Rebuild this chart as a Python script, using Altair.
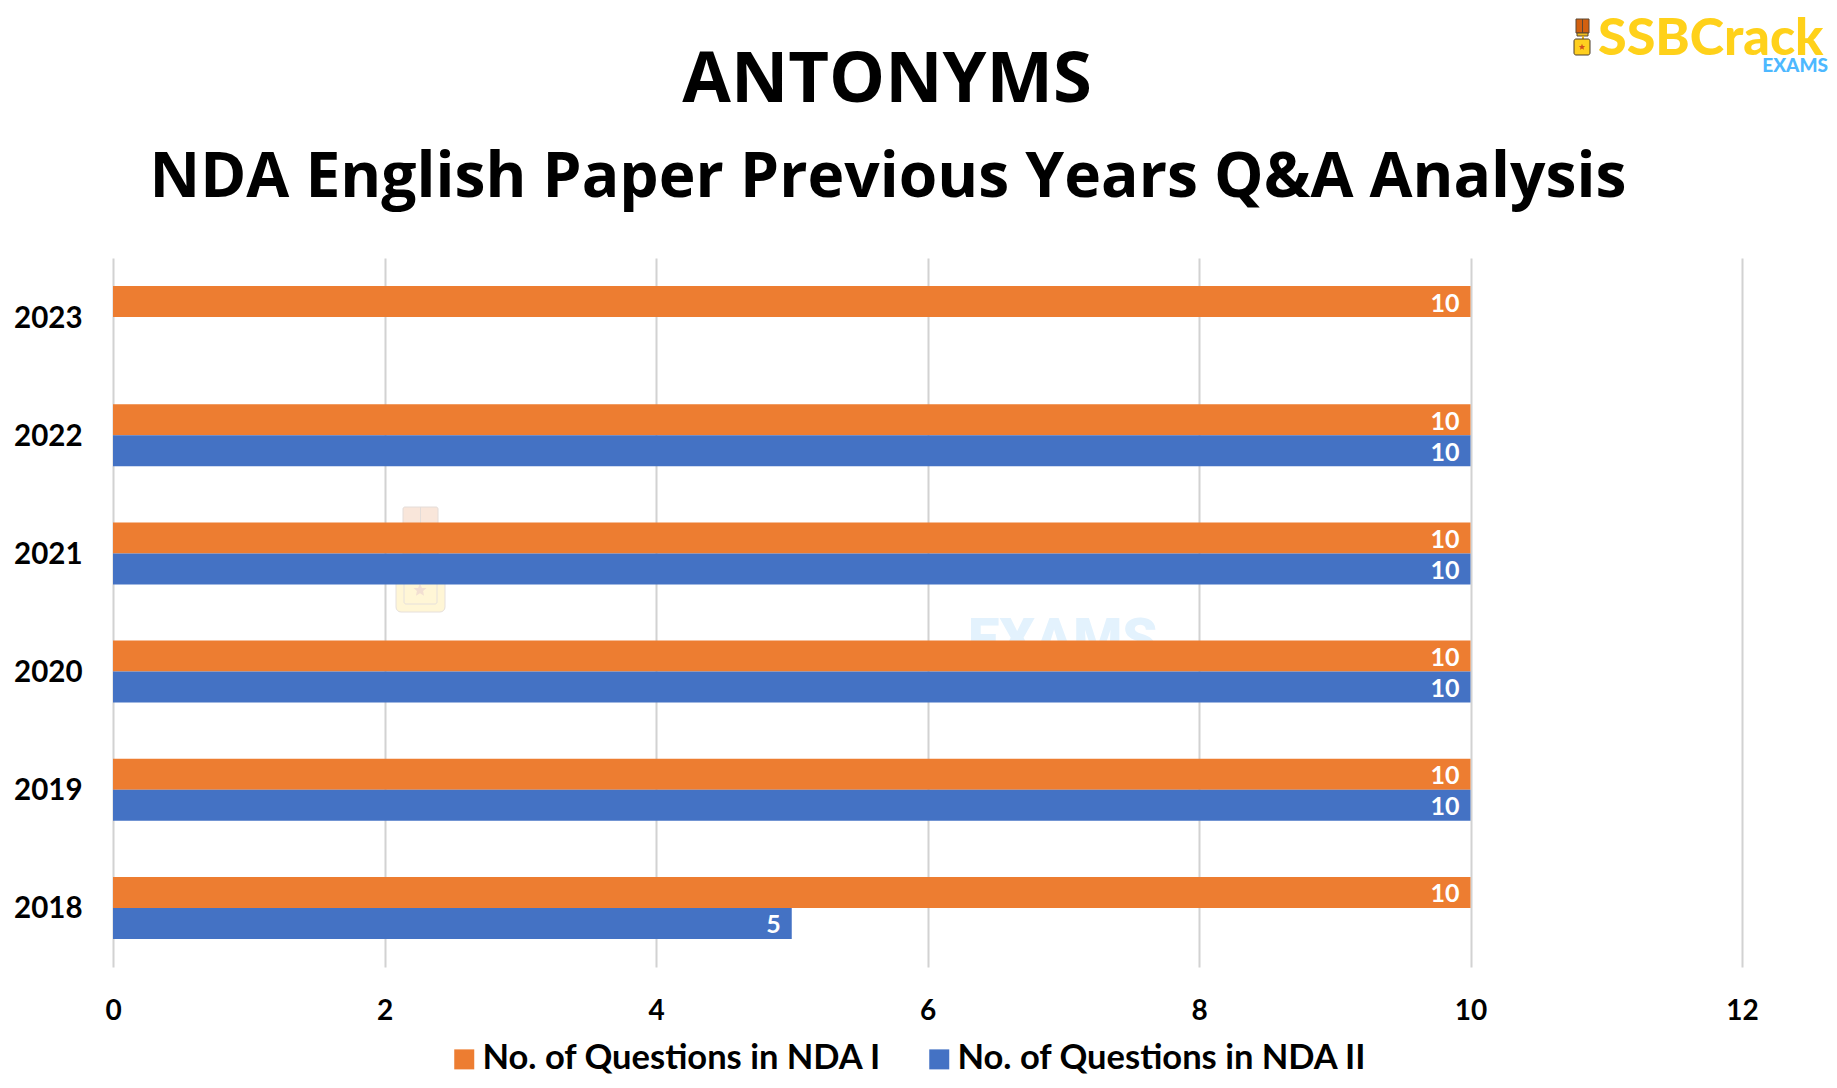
import altair as alt
import pandas as pd

years = ["2018", "2019", "2020", "2021", "2022", "2023"]
nda_1 = [10, 10, 10, 10, 10, 10]
nda_2 = [5, 10, 10, 10, 10, None]
series_names = ["No. of Questions in NDA I", "No. of Questions in NDA II"]
series_colors = ["#ED7D31", "#4472C4"]
x_ticks = [0, 2, 4, 6, 8, 10, 12]

# long table, 2023 has no NDA II paper
rows = []
for year, a, b in zip(years, nda_1, nda_2):
    rows.append({"year": year, "series": series_names[0], "questions": a})
    if b is not None:
        rows.append({"year": year, "series": series_names[1], "questions": b})
df = pd.DataFrame(rows)

# plot area sits at page x=113, y=258
LEFT, TOP = 113, 258
STAR = "M0,-1L0.29,-0.31L1,-0.31L0.47,0.16L0.62,0.9L0,0.5L-0.62,0.9L-0.47,0.16L-1,-0.31L-0.29,-0.31Z"


def page_rect(x0, y0, x1, y1, color, stroke=None, radius=0):
    # decoration placed in page pixels (logo and watermark)
    kw = {"stroke": stroke, "strokeWidth": 1} if stroke else {}
    return alt.Chart().mark_rect(color=color, cornerRadius=radius, **kw).encode(
        x=alt.value(x0 - LEFT), x2=alt.value(x1 - LEFT),
        y=alt.value(y0 - TOP), y2=alt.value(y1 - TOP),
    )


def page_text(text, x, y, size, color, font="Open Sans", align="left", weight=700):
    return alt.Chart().mark_text(
        text=text, font=font, fontSize=size, fontWeight=weight, color=color,
        align=align, baseline="alphabetic",
    ).encode(x=alt.value(x - LEFT), y=alt.value(y - TOP))


def page_star(x, y, size, color):
    return alt.Chart().mark_point(shape=STAR, filled=True, size=size, color=color, opacity=1).encode(
        x=alt.value(x - LEFT), y=alt.value(y - TOP)
    )


# faint watermark behind the bars
watermark = [
    page_rect(403, 507, 438, 560, "#F9E6DA", stroke="#E4DCD8", radius=2),
    page_rect(420, 507, 421, 560, "#E4DCD8"),
    page_rect(396, 560, 445, 612, "#FFF6D6", stroke="#E6E0DC", radius=5),
    page_rect(404, 560, 437, 604, "#FFF6D6", stroke="#E6E0DC", radius=2),
    page_star(420, 590, 170, "#F2DFD2"),
    page_text("EXAMS", 968, 658, 56, "#E3F2FD", font="Roboto", weight=900),
]

# logo top right, the svg ends at x=1829 so it has to stop there
logo = [
    page_rect(1576, 19, 1589, 33, "#D2600F", stroke="#5A4632"),
    page_rect(1582, 19, 1583, 33, "#5A4632"),
    page_rect(1577, 33, 1588, 36, "#F0C020", stroke="#5A4632"),
    page_rect(1582, 36, 1584, 39, "#E0B020"),
    page_rect(1574, 39, 1590, 55, "#FFCF1F", stroke="#4A3C2C", radius=2),
    page_star(1582, 47, 40, "#D2501F"),
    page_text("SSBCrack", 1598, 55, 52, "#FFD11A", font="Lato", weight=900),
    page_text("EXAMS", 1828, 72, 19, "#4DB8FF", font="Lato", align="right", weight=900),
]

titles = [
    page_text("ANTONYMS", 887, 102, 70.5, "#000000", align="center"),
    page_text("NDA English Paper Previous Years Q&A Analysis", 888, 197, 62.3, "#000000", align="center"),
]

y_enc = alt.Y(
    "year:N",
    sort=years[::-1],
    title=None,
    scale=alt.Scale(paddingInner=0.475, paddingOuter=0.2375),
    axis=alt.Axis(
        domain=False, ticks=False, labelPadding=31, labelFont="Lato", labelOffset=1.5,
        labelFontSize=29.5, labelFontWeight=700, labelColor="#000000",
    ),
)
x_enc = alt.X(
    "questions:Q",
    title=None,
    scale=alt.Scale(domain=[0, 12], nice=False),
    axis=alt.Axis(
        values=x_ticks, domain=False, ticks=False, grid=True, labelFlush=False,
        gridColor="#D2D2D2", gridWidth=2, labelPadding=30, labelFont="Lato",
        labelFontSize=28, labelFontWeight=700, labelColor="#000000", format="d",
    ),
)
offset_enc = alt.YOffset("series:N", sort=series_names, scale=alt.Scale(paddingInner=0, paddingOuter=0))

bars = alt.Chart(df).mark_bar(cornerRadius=0).encode(
    x=x_enc,
    y=y_enc,
    yOffset=offset_enc,
    color=alt.Color(
        "series:N",
        scale=alt.Scale(domain=series_names, range=series_colors),
        legend=alt.Legend(
            title=None, orient="none", direction="horizontal",
            legendX=453 - LEFT - 6, legendY=1042 - TOP,
            symbolType="square", symbolSize=400, symbolStrokeWidth=0,
            labelFont="Lato", labelFontSize=34.5, labelFontWeight=700, labelColor="#000000",
            labelLimit=700, columnPadding=39, labelOffset=1,
        ),
    ),
)

labels = alt.Chart(df).mark_text(
    align="right", baseline="middle", dx=-11, dy=2, color="white",
    font="Lato", fontSize=25, fontWeight=700,
).encode(x=x_enc, y=y_enc, yOffset=offset_enc, text=alt.Text("questions:Q"))

chart = alt.layer(*watermark, bars, labels, *titles, *logo).properties(
    width=1629,
    height=709,
    autosize=alt.AutoSizeParams(type="none"),
    padding={"left": 105, "top": 250, "right": 87, "bottom": 108},
    background="white",
).configure_view(stroke=None)

chart.save("out.html", embed_options={"renderer": "svg", "actions": False})
